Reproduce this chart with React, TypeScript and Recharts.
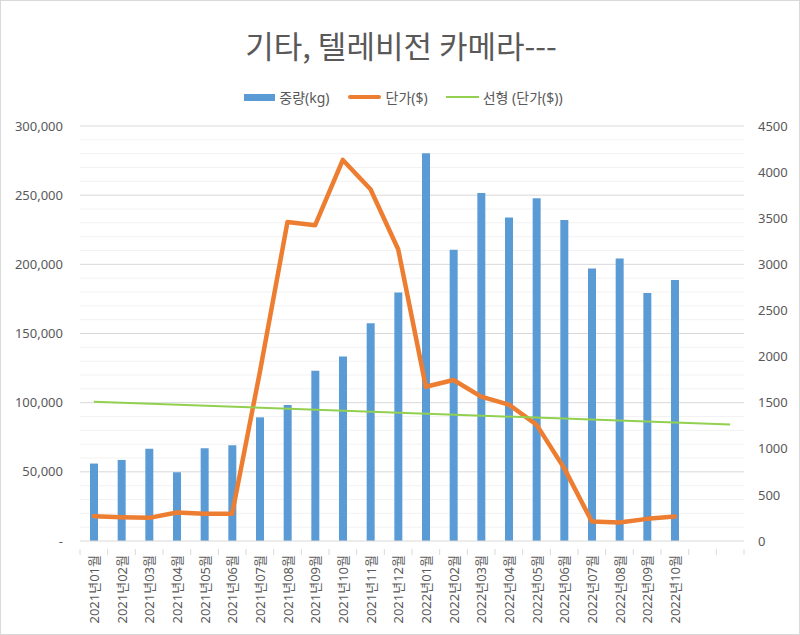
import React from "react";
import {
  ComposedChart,
  Bar,
  Line,
  XAxis,
  YAxis,
  ReferenceLine
} from "recharts";

const months = [
  "2021년01월", "2021년02월", "2021년03월", "2021년04월", "2021년05월", "2021년06월",
  "2021년07월", "2021년08월", "2021년09월", "2021년10월", "2021년11월", "2021년12월",
  "2022년01월", "2022년02월", "2022년03월", "2022년04월", "2022년05월", "2022년06월",
  "2022년07월", "2022년08월", "2022년09월", "2022년10월", "", ""
];

// 중량(kg)
const weightKg = [
  56000, 58600, 66600, 49700, 67000, 69200, 89400, 98300, 123100, 133400, 157500, 179600,
  280300, 210500, 251600, 233800, 247800, 232100, 197000, 204200, 179200, 188600, null, null
];

// 단가($)
const unitPrice = [
  269, 258, 251, 309, 295, 295, 1830, 3460, 3424, 4132, 3814, 3164,
  1673, 1746, 1565, 1478, 1262, 790, 211, 200, 240, 265, null, null
];

// 선형 추세선: 시작점과 끝점(2구간 예측 포함)
const trendPrice = [
  1511, null, null, null, null, null, null, null, null, null, null, null,
  null, null, null, null, null, null, null, null, null, null, null, 1262
];

const leftTicks = [0, 50000, 100000, 150000, 200000, 250000, 300000];
const rightTicks = [0, 500, 1000, 1500, 2000, 2500, 3000, 3500, 4000, 4500];

const data = months.map((m, i) => ({
  month: m,
  weight: weightKg[i],
  price: unitPrice[i],
  trend: trendPrice[i]
}));

const gridValues: number[] = [];
for (let v = 10000; v <= 300000; v += 10000) gridValues.push(v);

const FONT = "'Noto Sans', 'Noto Sans CJK KR', sans-serif";
const TEXT = "#595959";

const MonthTick = (props: any) => {
  const { x, y, payload, index } = props;
  const half = payload && payload.offset ? payload.offset : 13.83;
  const last = index === months.length - 1;
  return (
    <g>
      <line x1={x - half} y1={y} x2={x - half} y2={y + 6} stroke="#D9D9D9" />
      {last && <line x1={x + half} y1={y} x2={x + half} y2={y + 6} stroke="#D9D9D9" />}
      <text
        x={0}
        y={0}
        transform={`translate(${x + 5},${y + 6}) rotate(-90)`}
        textAnchor="end"
        fontSize={13}
        fill={TEXT}
        fontFamily={FONT}
      >
        {payload.value}
      </text>
    </g>
  );
};

const fmtLeft = (v: number) => (v === 0 ? "-" : v.toLocaleString("en-US"));

export default function App() {
  return (
    <div
      style={{
        position: "fixed",
        left: 0,
        top: 0,
        width: 800,
        height: 635,
        background: "#fff",
        border: "1px solid #D9D9D9",
        boxSizing: "border-box",
        fontFamily: FONT
      }}
    >
      <div
        style={{
          position: "absolute",
          top: 21,
          left: 0,
          width: 800,
          textAlign: "center",
          fontSize: 31,
          color: TEXT,
          fontFamily: "'Noto Sans CJK KR', sans-serif"
        }}
      >
        기타, 텔레비전 카메라---
      </div>
      <div
        style={{
          position: "absolute",
          top: 86,
          left: 0,
          width: 805,
          display: "flex",
          justifyContent: "center",
          alignItems: "center",
          fontSize: 14,
          color: TEXT,
          gap: 18
        }}
      >
        <span style={{ display: "flex", alignItems: "center" }}>
          <span style={{ width: 31, height: 7, background: "#5B9BD5", marginRight: 4 }} />
          중량(kg)
        </span>
        <span style={{ display: "flex", alignItems: "center" }}>
          <span style={{ width: 33, height: 4, borderRadius: 2, background: "#ED7D31", marginRight: 5 }} />
          단가($)
        </span>
        <span style={{ display: "flex", alignItems: "center" }}>
          <span style={{ width: 33, height: 2, background: "#92D050", marginRight: 4 }} />
          선형 (단가($))
        </span>
      </div>
      <div style={{ position: "absolute", left: 0, top: 0 }}>
        <ComposedChart
          width={800}
          height={635}
          data={data}
          margin={{ top: 125, right: 0, bottom: 0, left: 0 }}
        >
          <XAxis
            dataKey="month"
            xAxisId={0}
            interval={0}
            height={95}
            tickLine={false}
            axisLine={{ stroke: "#D9D9D9" }}
            tick={<MonthTick />}
          />
          <YAxis
            yAxisId="left"
            width={79}
            domain={[0, 300000]}
            ticks={leftTicks}
            tickFormatter={fmtLeft}
            axisLine={false}
            tickLine={false}
            tickSize={0}
            tickMargin={17}
            tick={{ fill: TEXT, fontSize: 13, fontFamily: FONT }}
          />
          <YAxis
            yAxisId="right"
            orientation="right"
            width={57}
            domain={[0, 4500]}
            ticks={rightTicks}
            axisLine={false}
            tickLine={false}
            tickSize={0}
            tickMargin={14}
            tick={{ fill: TEXT, fontSize: 13, fontFamily: FONT, textAnchor: "start" }}
          />
          {gridValues.map((v) => (
            <ReferenceLine
              key={v}
              yAxisId="left"
              y={v}
              zIndex={-100}
              stroke={v % 50000 === 0 ? "#D9D9D9" : "#F2F2F2"}
              strokeWidth={1}
            />
          ))}
          <Bar
            yAxisId="left"
            dataKey="weight"
            fill="#5B9BD5"
            barSize={8}
            isAnimationActive={false}
          />
          <Line
            yAxisId="right"
            dataKey="price"
            stroke="#ED7D31"
            strokeWidth={4.5}
            strokeLinejoin="round"
            strokeLinecap="round"
            dot={false}
            type="linear"
            isAnimationActive={false}
          />
          <Line
            yAxisId="right"
            dataKey="trend"
            stroke="#92D050"
            strokeWidth={2}
            dot={false}
            connectNulls
            type="linear"
            isAnimationActive={false}
          />
        </ComposedChart>
      </div>
    </div>
  );
}
